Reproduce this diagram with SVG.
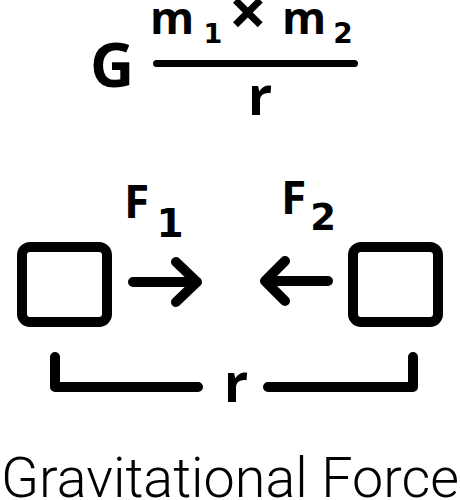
<svg xmlns="http://www.w3.org/2000/svg" width="460" height="500" viewBox="0 0 460 500">
<style>
.b{font-family:"Open Sans","Liberation Sans",sans-serif;font-weight:700;fill:#000}
.d{font-family:"DejaVu Sans","Open Sans",sans-serif;font-weight:700;fill:#000}
.s{fill:none;stroke:#000;stroke-width:10;stroke-linecap:round;stroke-linejoin:round}
.t{font-family:Roboto,"Liberation Sans",sans-serif;font-weight:300;fill:#000}
</style>
<rect width="460" height="500" fill="#fff"/>
<g id="formula">
<text class="b" x="90" y="87" font-size="61">G</text>
<text class="b" x="150" y="34" font-size="45">m</text>
<text class="d" x="213" y="43" font-size="27" text-anchor="middle">1</text>
<text class="b" x="248" y="36" font-size="67" text-anchor="middle">×</text>
<text class="b" x="282" y="34" font-size="45">m</text>
<text class="d" x="343" y="43" font-size="28" text-anchor="middle">2</text>
<line x1="156.5" y1="63.5" x2="354.5" y2="63.5" stroke="#000" stroke-width="7" stroke-linecap="round"/>
<text class="b" x="260" y="115" font-size="54" text-anchor="middle">r</text>
</g>
<g id="mass1"><rect class="s" x="22" y="247" width="85" height="75" rx="8"/></g>
<g id="mass2"><rect class="s" x="353" y="247" width="85" height="75" rx="8"/></g>
<g id="f1"><text class="b" x="124" y="218" font-size="46">F</text><text class="d" x="170" y="237" font-size="39" text-anchor="middle">1</text></g>
<g id="f2"><text class="b" x="281" y="214" font-size="46">F</text><text class="d" x="323" y="230" font-size="37" text-anchor="middle">2</text></g>
<g id="connectors">
<path class="s" d="M133 282H197M176 262L197 282L176 302"/>
<path class="s" d="M328 281H265M285 261L265 281L285 301"/>
<path class="s" d="M55 357V387H198M268 387H413V357"/>
<text class="b" x="236" y="402" font-size="54" text-anchor="middle">r</text>
</g>
<text class="t" x="230" y="497" font-size="56" text-anchor="middle" textLength="458" lengthAdjust="spacingAndGlyphs">Gravitational Force</text>
</svg>
